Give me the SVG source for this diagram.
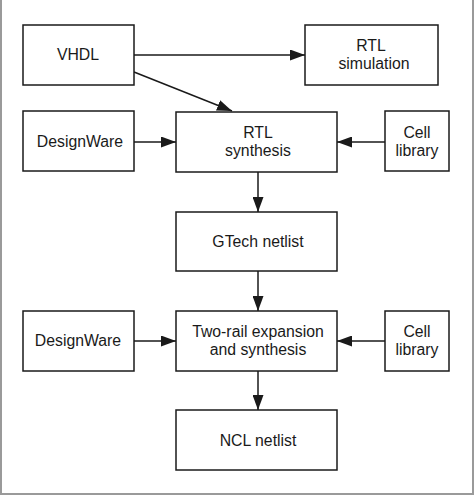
<svg xmlns="http://www.w3.org/2000/svg" width="474" height="495" viewBox="0 0 474 495">
<style>
.box{fill:#fff;stroke:#1a1a1a;stroke-width:1.5}
.t{font-family:"Liberation Sans",Arial,sans-serif;font-size:15.8px;fill:#1a1a1a;text-anchor:middle}
.c{stroke:#1a1a1a;stroke-width:1.5;fill:none;marker-end:url(#ah)}
</style>
<defs>
<marker id="ah" viewBox="0 0 15 11" refX="15" refY="5.5" markerWidth="15" markerHeight="11" markerUnits="userSpaceOnUse" orient="auto">
<path d="M0,0 L15,5.5 L0,11 Z" fill="#1a1a1a"/>
</marker>
</defs>
<rect x="0" y="0" width="474" height="495" fill="#fff"/>
<rect x="1" y="-1" width="472" height="495" fill="none" stroke="#9a9a9a" stroke-width="2"/>
<g id="connectors">
<line class="c" x1="134" y1="55" x2="305" y2="55"/>
<line class="c" x1="134" y1="72" x2="232" y2="111"/>
<line class="c" x1="134" y1="142" x2="176" y2="142"/>
<line class="c" x1="385" y1="142" x2="337" y2="142"/>
<line class="c" x1="258" y1="172" x2="258" y2="212"/>
<line class="c" x1="258" y1="271" x2="258" y2="311"/>
<line class="c" x1="134" y1="341" x2="176" y2="341"/>
<line class="c" x1="385" y1="341" x2="337" y2="341"/>
<line class="c" x1="258" y1="371" x2="258" y2="410"/>
</g>
<g id="vhdl"><rect class="box" x="23" y="25" width="111" height="60"/><text class="t" x="78" y="60">VHDL</text></g>
<g id="rtlsim"><rect class="box" x="305" y="25" width="133" height="60"/><text class="t" x="371" y="51">RTL</text><text class="t" x="374" y="69">simulation</text></g>
<g id="designware1"><rect class="box" x="23" y="111" width="111" height="60"/><text class="t" x="80" y="147">DesignWare</text></g>
<g id="rtlsynth"><rect class="box" x="176" y="112" width="161" height="60"/><text class="t" x="258" y="138">RTL</text><text class="t" x="258" y="156">synthesis</text></g>
<g id="celllib1"><rect class="box" x="385" y="111" width="64" height="60"/><text class="t" x="417" y="138">Cell</text><text class="t" x="417" y="156">library</text></g>
<g id="gtech"><rect class="box" x="176" y="212" width="161" height="59"/><text class="t" x="258" y="247">GTech netlist</text></g>
<g id="designware2"><rect class="box" x="23" y="311" width="111" height="60"/><text class="t" x="78" y="346">DesignWare</text></g>
<g id="tworail"><rect class="box" x="176" y="311" width="161" height="60"/><text class="t" x="258" y="337">Two-rail expansion</text><text class="t" x="258" y="355">and synthesis</text></g>
<g id="celllib2"><rect class="box" x="385" y="311" width="64" height="60"/><text class="t" x="417" y="337">Cell</text><text class="t" x="417" y="355">library</text></g>
<g id="ncl"><rect class="box" x="176" y="410" width="161" height="60"/><text class="t" x="258" y="446">NCL netlist</text></g>
</svg>
